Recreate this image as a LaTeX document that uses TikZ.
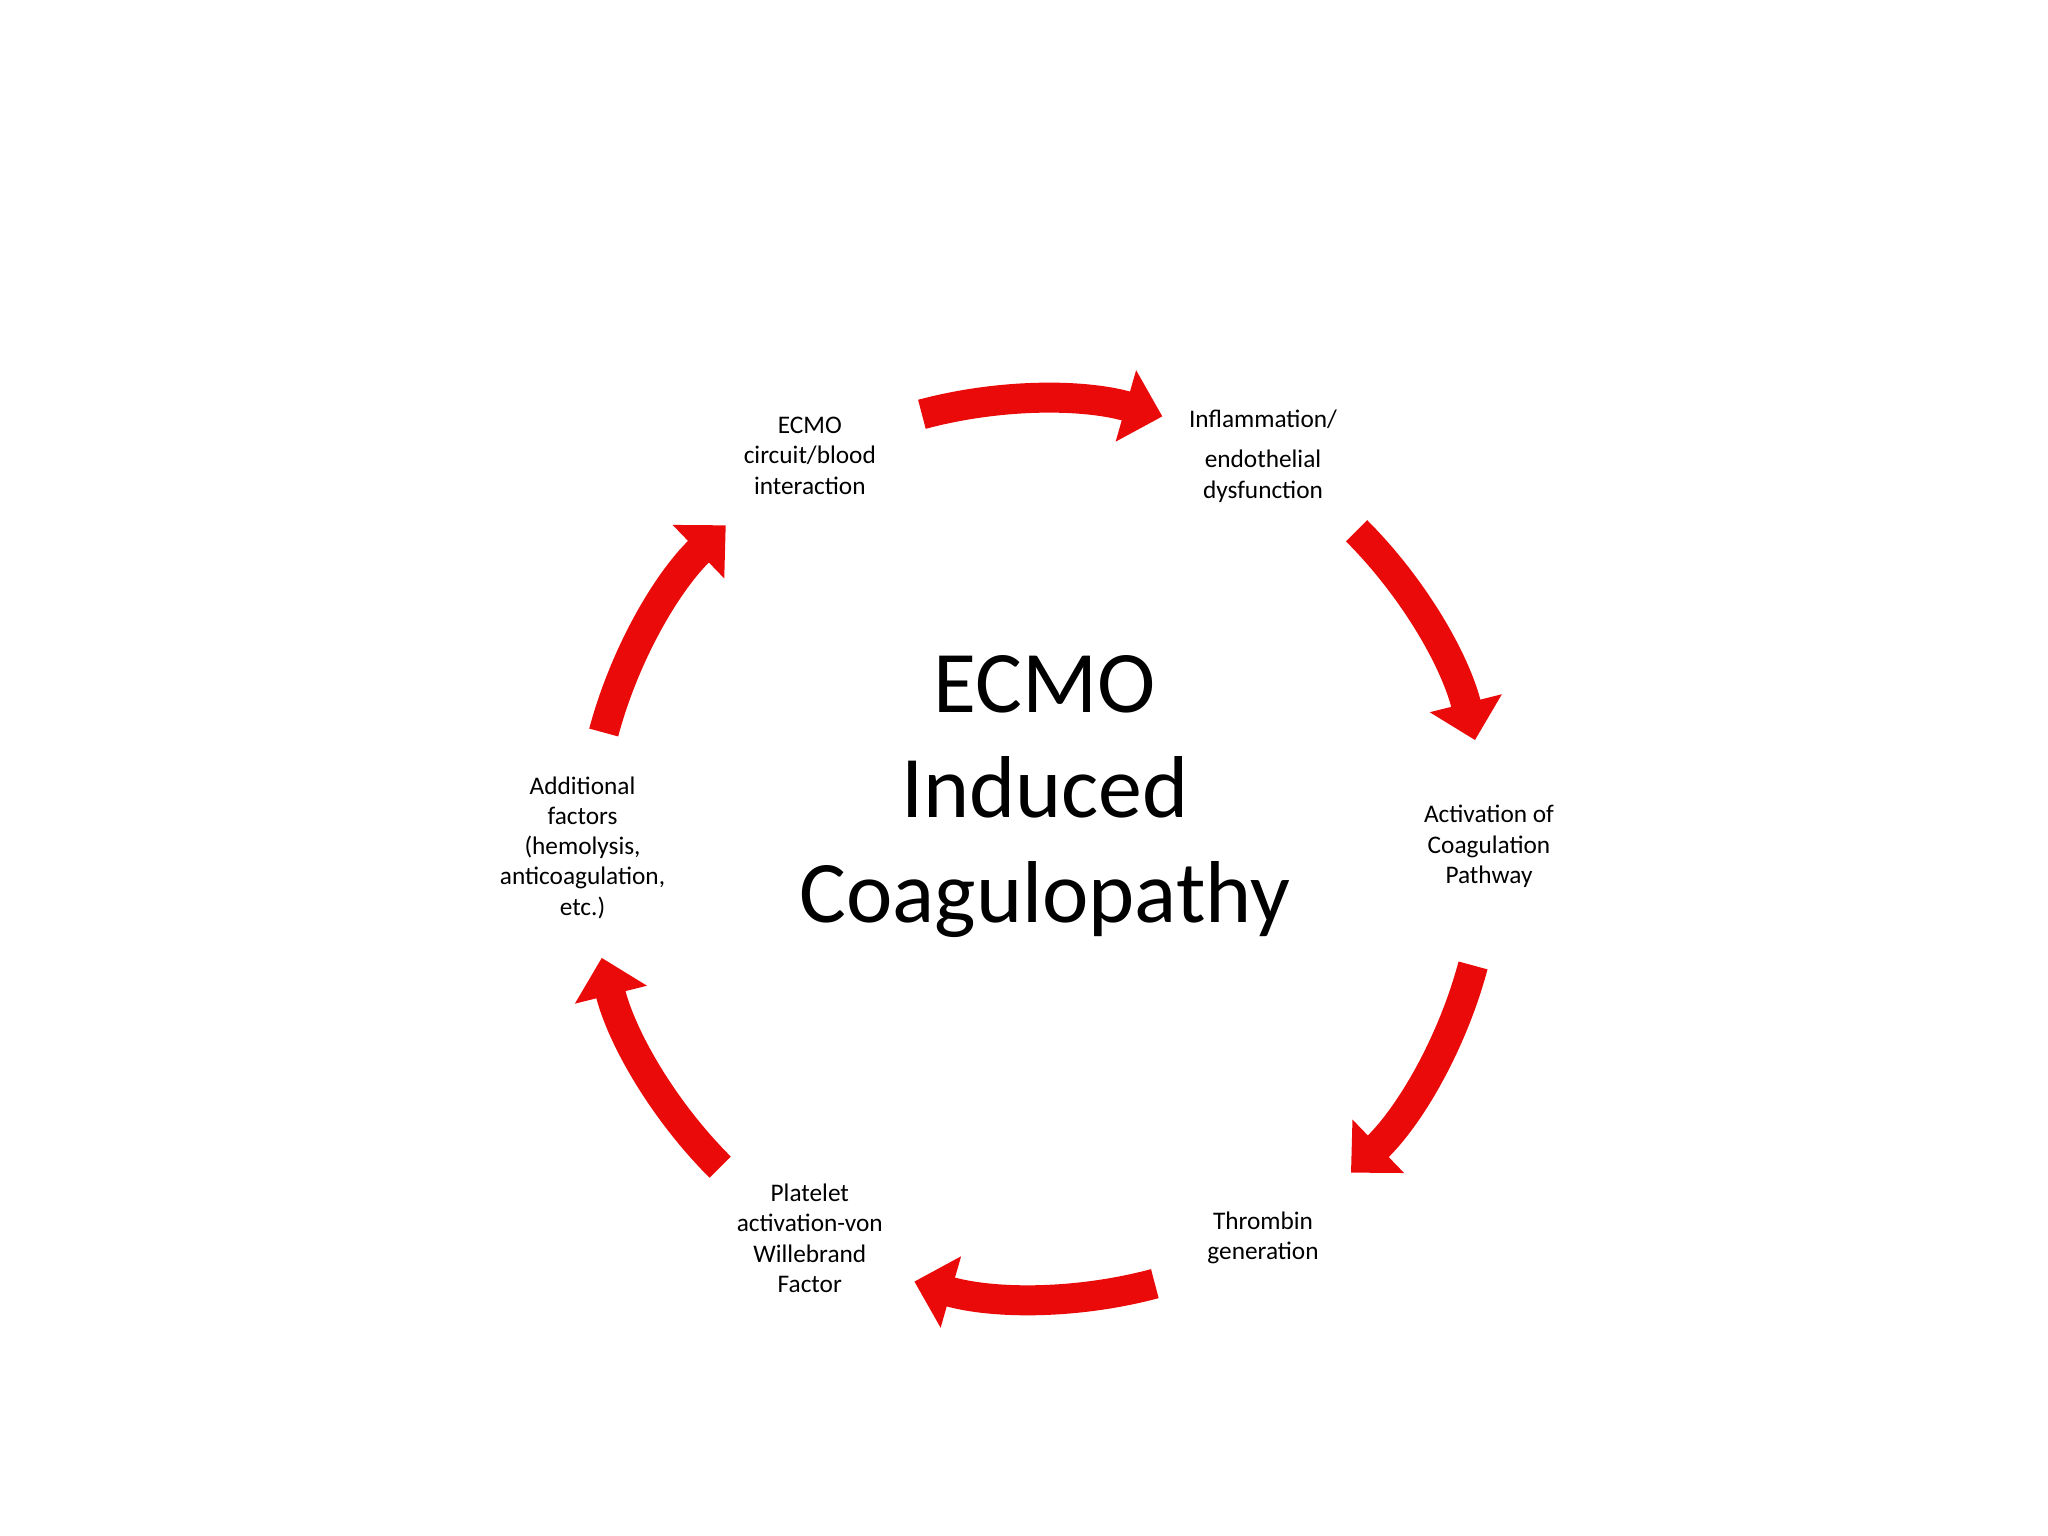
\documentclass[tikz,border=0pt]{standalone}
\usepackage{fontspec}
\setmainfont{Carlito}
\usetikzlibrary{arrows.meta}
\definecolor{cred}{RGB}{235,10,10}
\begin{document}
\begin{tikzpicture}[x=0.01306cm,y=-0.01306cm,
  lbl/.style={align=center,font=\fontsize{7.2}{8.6}\selectfont},
  cyc/.style={cred,line width=0.3cm,-{Triangle[width=0.72cm,length=0.38cm]}}]
\useasboundingbox[fill=white] (0,0) rectangle (1568,1176);
\coordinate (c) at (795,650);
\node[lbl] (a) at (620,349) {ECMO\\circuit/blood\\interaction};
\node[lbl] (b) at (967,349) {Inflammation/\\[3pt]endothelial\\dysfunction};
\node[lbl] (d) at (1140,648) {Activation of\\Coagulation\\Pathway};
\node[lbl] (e) at (967,948) {Thrombin\\generation};
\node[lbl] (f) at (620,948) {Platelet\\activation-von\\Willebrand\\Factor};
\node[lbl] (g) at (446,649) {Additional\\factors\\(hemolysis,\\anticoagulation,\\etc.)};
\node[align=center,font=\fontsize{25}{29.8}\selectfont] (t) at (800,610) {ECMO\\Induced\\Coagulopathy};
\foreach \m in {90,30,-30,-90,-150,150}
  \draw[cyc] (c) ++({\m+15}:4.5cm) arc[start angle={\m+15},end angle={\m-16},radius=4.5cm];
\end{tikzpicture}
\end{document}
